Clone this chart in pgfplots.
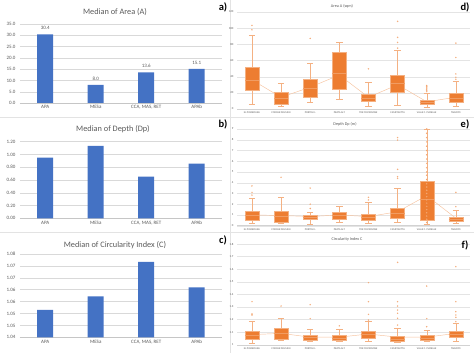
\documentclass[border=0pt]{standalone}
\usepackage{pgfplots}
\pgfplotsset{compat=1.18}
\usepgfplotslibrary{statistics}
\usepackage{fontspec}
\setmainfont{Carlito}
\definecolor{barblue}{HTML}{4472C4}
\definecolor{boxor}{HTML}{ED7D31}
\definecolor{whisk}{HTML}{F4B183}
\definecolor{txtgray}{HTML}{595959}
\definecolor{gridg}{HTML}{D9D9D9}
\newcommand{\fs}[1]{\fontsize{#1bp}{#1bp}\selectfont}
\pgfplotsset{
  barchart/.style={scale only axis, width=202bp, xmin=-0.5, xmax=3.5,
    xtick={0,1,2,3}, xticklabels={APA,MESa,{CCA, MAS, RET},APAb},
    ybar, bar width=16bp, ymajorgrids, grid style={gridg, line width=0.4pt},
    axis x line*=bottom, axis y line*=left,
    x axis line style={draw=gray!45,-}, y axis line style={draw=none},
    major tick length=0pt,
    xticklabel style={font=\fs{5}, text=txtgray, yshift=1bp},
    yticklabel style={font=\fs{5}, text=txtgray, xshift=-1bp},
    /pgf/number format/assume math mode=true,
  },
  boxchart/.style={scale only axis, width=233bp, xmin=0.5, xmax=8.5,
    xtick={1,...,8},
    xticklabels={EL POMBOURA,FORCHE DOLMEN,PORTOLI L,PRATA ALT,TRE FONTANONE,CAMPOLETTA,VALLE C. PIANELLE,TRAVATO},
    ymajorgrids, grid style={gridg!70, line width=0.3pt},
    axis x line*=bottom, axis y line*=left,
    x axis line style={draw=gray!35,-}, y axis line style={draw=none},
    major tick length=0pt,
    xticklabel style={font=\fs{2.6}, text=txtgray, yshift=0.5bp},
    yticklabel style={font=\fs{3}, text=txtgray, xshift=-0.5bp},
    /pgf/number format/assume math mode=true,
    boxplot/draw direction=y,
  },
  bx/.style={boxor, mark=o, mark size=0.6bp,
    mark options={draw=whisk!80!boxor, line width=0.3pt, fill=none},
    boxplot/draw direction=y,
    boxplot/box extend=0.48, boxplot/whisker extend=0.22,
    boxplot/every box/.style={fill=boxor, draw=whisk, line width=0.3pt},
    boxplot/every whisker/.style={draw=whisk, line width=0.4pt},
    boxplot/every median/.style={draw=whisk!60!boxor, line width=0.3pt}},
  meanline/.style={whisk!80!white, line width=0.45pt, mark=none},
}
\begin{document}
\begin{tikzpicture}
\path[use as bounding box] (0,0) rectangle (474bp,353bp);
% separators
\draw[gray!22, line width=0.4pt] (0,236bp) -- (474bp,236bp);
\draw[gray!22, line width=0.4pt] (0,121bp) -- (474bp,121bp);
\draw[gray!22, line width=0.4pt] (230bp,0) -- (230bp,353bp);

% ---------- a) ----------
\begin{axis}[barchart, at={(20bp,250bp)}, anchor=south west, height=79bp,
  ymin=0, ymax=35, ytick={0,5,...,35},
  yticklabel={\pgfmathprintnumber[fixed,fixed zerofill,precision=1]{\tick}},
  nodes near coords={\pgfmathprintnumber[fixed,fixed zerofill,precision=1]{\pgfplotspointmeta}},
  nodes near coords style={font=\fs{5}, text=txtgray, yshift=1bp}]
\addplot[fill=barblue, draw=none] coordinates {(0,30.4) (1,8.0) (2,13.6) (3,15.1)};
\end{axis}
\node[font=\fs{8.3}, text=txtgray] at (115bp,341bp) {Median of Area (A)};
\node[font=\fs{10.5}\bfseries] at (223bp,346bp) {a)};

% ---------- b) ----------
\begin{axis}[barchart, at={(20bp,134.7bp)}, anchor=south west, height=76.6bp,
  ymin=0, ymax=1.2, ytick={0,0.2,...,1.2},
  yticklabel={\pgfmathprintnumber[fixed,fixed zerofill,precision=2]{\tick}}]
\addplot[fill=barblue, draw=none] coordinates {(0,0.95) (1,1.133) (2,0.653) (3,0.856)};
\end{axis}
\node[font=\fs{8.3}, text=txtgray] at (113bp,224bp) {Median of Depth (Dp)};
\node[font=\fs{10.5}\bfseries] at (223bp,229bp) {b)};

% ---------- c) ----------
\begin{axis}[barchart, at={(20bp,15.7bp)}, anchor=south west, height=83.3bp,
  ymin=1.04, ymax=1.075, ytick={1.04,1.045,1.05,1.055,1.06,1.065,1.07,1.075},
  yticklabels={1.04,1.05,1.05,1.06,1.06,1.07,1.07,1.08}]
\addplot[fill=barblue, draw=none] coordinates {(0,1.0515) (1,1.0572) (2,1.0717) (3,1.061)};
\end{axis}
\node[font=\fs{8.3}, text=txtgray] at (115bp,108bp) {Median of Circularity Index (C)};
\node[font=\fs{10.5}\bfseries] at (223bp,113bp) {c)};

% ---------- d) ----------
\begin{axis}[boxchart, at={(237.4bp,244bp)}, anchor=south west, height=97bp,
  ymin=0, ymax=120, ytick={0,20,...,120}]
\addplot[meanline] coordinates {(1,36) (2,14.5) (3,27) (4,42) (5,14.5) (6,30) (7,9) (8,14.5)};
\addplot[bx, boxplot prepared={draw position=1, lower whisker=5.8, lower quartile=22.8, median=36, upper quartile=51.3, upper whisker=91.9}] coordinates {(0,98) (0,103.4)};
\addplot[bx, boxplot prepared={draw position=2, lower whisker=3.3, lower quartile=6.6, median=14, upper quartile=20.7, upper whisker=31.9}] coordinates {};
\addplot[bx, boxplot prepared={draw position=3, lower whisker=8.3, lower quartile=14.5, median=25.7, upper quartile=36.8, upper whisker=57}] coordinates {(0,87.3)};
\addplot[bx, boxplot prepared={draw position=4, lower whisker=12.4, lower quartile=24.8, median=44.3, upper quartile=70.3, upper whisker=82.3}] coordinates {};
\addplot[bx, boxplot prepared={draw position=5, lower whisker=3.7, lower quartile=9.1, median=13.6, upper quartile=18.2, upper whisker=33.1}] coordinates {(0,49.7)};
\addplot[bx, boxplot prepared={draw position=6, lower whisker=5, lower quartile=21.1, median=31.9, upper quartile=41.8, upper whisker=73.2}] coordinates {(0,75.3) (0,82.3) (0,88.6) (0,108.4)};
\addplot[bx, boxplot prepared={draw position=7, lower whisker=2.1, lower quartile=5.4, median=8.3, upper quartile=11.2, upper whisker=20}] coordinates {(0,21.5) (0,23) (0,24.5) (0,26) (0,27.5) (0,29)};
\addplot[bx, boxplot prepared={draw position=8, lower whisker=3.7, lower quartile=8.7, median=13.2, upper quartile=19.4, upper whisker=34}] coordinates {(0,36.8) (0,39.3) (0,43.4) (0,63.7) (0,81.5)};
\end{axis}
\node[font=\fs{4.2}, text=txtgray] at (342bp,347bp) {Area A (sqm)};
\node[font=\fs{10.5}\bfseries] at (465bp,346bp) {d)};

% ---------- e) ----------
\begin{axis}[boxchart, at={(237.4bp,127.3bp)}, anchor=south west, height=96.7bp,
  ymin=0, ymax=9, ytick={0,1,...,9}]
\addplot[meanline] coordinates {(1,1.0) (2,0.95) (3,0.85) (4,1.0) (5,0.85) (6,1.3) (7,2.8) (8,0.7)};
\addplot[bx, boxplot prepared={draw position=1, lower whisker=0.19, lower quartile=0.53, median=1.0, upper quartile=1.36, upper whisker=2.54}] coordinates {(0,2.85) (0,3.1) (0,3.7)};
\addplot[bx, boxplot prepared={draw position=2, lower whisker=0.19, lower quartile=0.37, median=0.9, upper quartile=1.36, upper whisker=2.64}] coordinates {(0,4.5)};
\addplot[bx, boxplot prepared={draw position=3, lower whisker=0.16, lower quartile=0.59, median=0.8, upper quartile=1.0, upper whisker=1.3}] coordinates {(0,1.6) (0,2.0) (0,3.5)};
\addplot[bx, boxplot prepared={draw position=4, lower whisker=0.31, lower quartile=0.62, median=1.0, upper quartile=1.3, upper whisker=1.83}] coordinates {};
\addplot[bx, boxplot prepared={draw position=5, lower whisker=0.22, lower quartile=0.53, median=0.84, upper quartile=1.08, upper whisker=2.17}] coordinates {(0,2.4) (0,2.64)};
\addplot[bx, boxplot prepared={draw position=6, lower whisker=0.31, lower quartile=0.68, median=1.15, upper quartile=1.6, upper whisker=3.47}] coordinates {(0,4.4) (0,4.56) (0,5.24) (0,7.97) (0,8.2)};
\addplot[bx, boxplot prepared={draw position=7, lower whisker=0.12, lower quartile=0.47, median=2.5, upper quartile=4.19, upper whisker=9.0}] coordinates {(0,0.3) (0,0.6) (0,0.9) (0,1.2) (0,1.5) (0,1.8) (0,2.1) (0,2.4) (0,2.7) (0,3.0) (0,3.3) (0,3.6) (0,3.9) (0,4.3) (0,4.7) (0,5.0) (0,5.4) (0,5.8) (0,6.2) (0,6.6) (0,7.0) (0,7.4) (0,7.8) (0,8.2) (0,8.6) (0,9.0)};
\addplot[bx, boxplot prepared={draw position=8, lower whisker=0.19, lower quartile=0.43, median=0.62, upper quartile=0.84, upper whisker=1.46}] coordinates {(0,1.77) (0,3.1)};
\end{axis}
\node[font=\fs{4.2}, text=txtgray] at (345bp,229bp) {Depth Dp (m)};
\node[font=\fs{10.5}\bfseries] at (465bp,229bp) {e)};

% ---------- f) ----------
\begin{axis}[boxchart, at={(237.4bp,8.3bp)}, anchor=south west, height=100.7bp,
  ymin=1, ymax=1.8, ytick={1,1.1,1.2,1.3,1.4,1.5,1.6,1.7,1.8},
  yticklabels={1,1.1,1.2,1.3,1.4,1.5,1.6,1.7,1.8}]
\addplot[meanline] coordinates {(1,1.08) (2,1.09) (3,1.06) (4,1.06) (5,1.085) (6,1.06) (7,1.06) (8,1.09)};
\addplot[bx, boxplot prepared={draw position=1, lower whisker=1.01, lower quartile=1.042, median=1.077, upper quartile=1.109, upper whisker=1.19}] coordinates {(0,1.236) (0,1.244) (0,1.342)};
\addplot[bx, boxplot prepared={draw position=2, lower whisker=1.037, lower quartile=1.048, median=1.09, upper quartile=1.13, upper whisker=1.21}] coordinates {(0,1.307)};
\addplot[bx, boxplot prepared={draw position=3, lower whisker=1.024, lower quartile=1.04, median=1.058, upper quartile=1.074, upper whisker=1.122}] coordinates {(0,1.207) (0,1.318)};
\addplot[bx, boxplot prepared={draw position=4, lower whisker=1.029, lower quartile=1.037, median=1.056, upper quartile=1.072, upper whisker=1.127}] coordinates {(0,1.15)};
\addplot[bx, boxplot prepared={draw position=5, lower whisker=1.024, lower quartile=1.053, median=1.08, upper quartile=1.106, upper whisker=1.183}] coordinates {(0,1.196) (0,1.241) (0,1.342) (0,1.493)};
\addplot[bx, boxplot prepared={draw position=6, lower whisker=1.019, lower quartile=1.032, median=1.048, upper quartile=1.069, upper whisker=1.13}] coordinates {(0,1.156) (0,1.21) (0,1.25) (0,1.275) (0,1.307) (0,1.342) (0,1.654)};
\addplot[bx, boxplot prepared={draw position=7, lower whisker=1.026, lower quartile=1.037, median=1.056, upper quartile=1.074, upper whisker=1.114}] coordinates {(0,1.143) (0,1.207) (0,1.466)};
\addplot[bx, boxplot prepared={draw position=8, lower whisker=1.029, lower quartile=1.058, median=1.085, upper quartile=1.109, upper whisker=1.17}] coordinates {(0,1.183) (0,1.217) (0,1.236) (0,1.262) (0,1.342) (0,1.62)};
\end{axis}
\node[font=\fs{4.2}, text=txtgray] at (347bp,114bp) {Circularity Index C};
\node[font=\fs{10.5}\bfseries] at (465bp,108bp) {f)};
\end{tikzpicture}
\end{document}
